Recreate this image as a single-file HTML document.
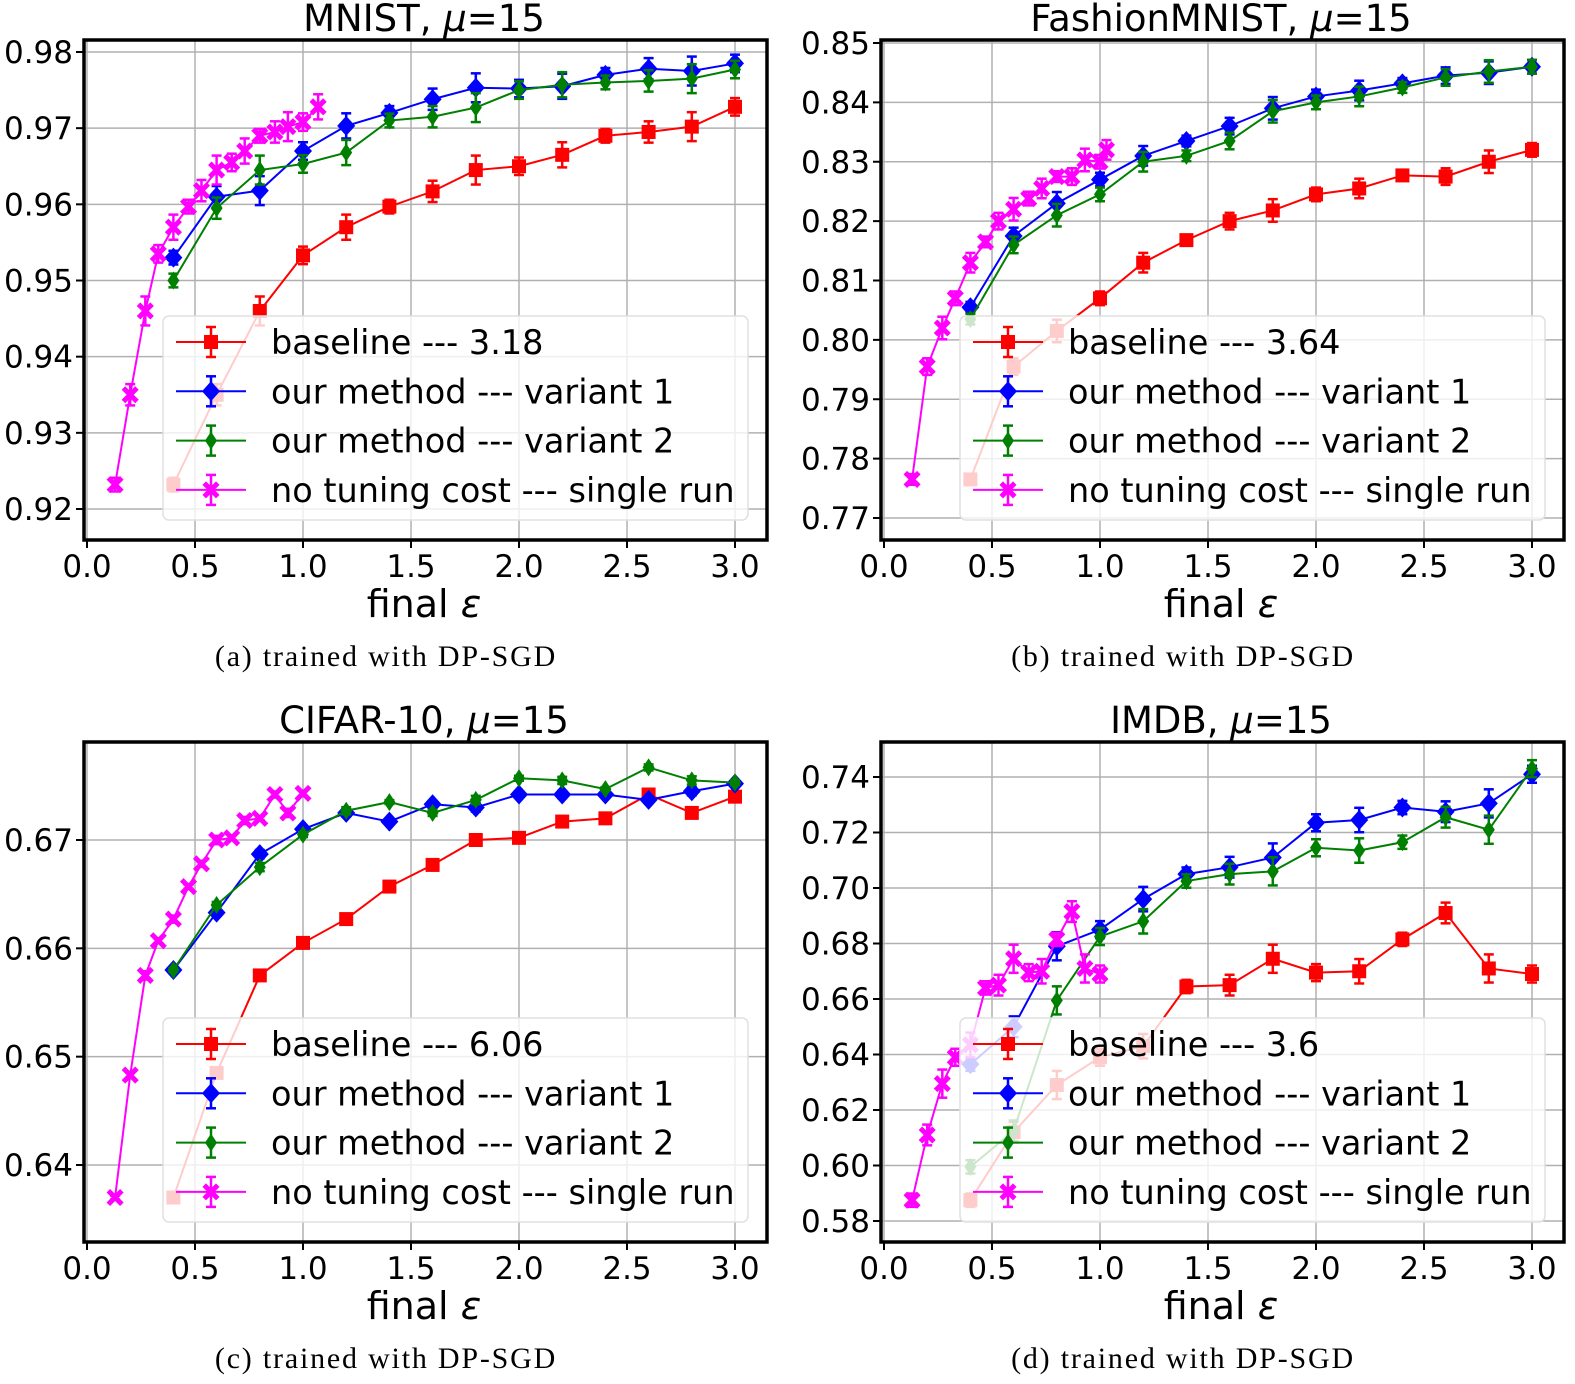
<!DOCTYPE html>
<html><head><meta charset="utf-8"><style>
body{margin:0;background:#fff;overflow:hidden;}
svg{display:block;}
svg text{font-family:"DejaVu Sans","Liberation Sans",sans-serif;}
</style></head><body>
<svg id="s" width="1575" height="1384" xmlns="http://www.w3.org/2000/svg"></svg>
<script>
const S=document.getElementById('s');let h='';
const panels=[
 {ox:0,oy:0,title:'MNIST',y0:0.92,py0:509,y1:0.98,py1:52,yt:[0.92,0.93,0.94,0.95,0.96,0.97,0.98],dec:2,leg:'baseline --- 3.18',cap:'(a) trained with DP-SGD',eb:0.0015,
 r:[[.4,.9232],[.6,.935],[.8,.946],[1,.9533],[1.2,.957],[1.4,.9597],[1.6,.9617],[1.8,.9645],[2,.965],[2.2,.9665],[2.4,.969],[2.6,.9695],[2.8,.9702],[3,.9728]],
 b:[[.4,.953],[.6,.961],[.8,.9618],[1,.967],[1.2,.9703],[1.4,.972],[1.6,.9738],[1.8,.9753],[2,.9752],[2.2,.9755],[2.4,.977],[2.6,.9778],[2.8,.9775],[3,.9785]],
 g:[[.4,.95],[.6,.9595],[.8,.9645],[1,.9653],[1.2,.9668],[1.4,.971],[1.6,.9715],[1.8,.9727],[2,.975],[2.2,.9757],[2.4,.976],[2.6,.9762],[2.8,.9765],[3,.9777]],
 m:[[.13,.9232],[.2,.935],[.27,.946],[.33,.9535],[.4,.957],[.47,.9597],[.53,.9618],[.6,.9645],[.67,.9655],[.73,.967],[.8,.969],[.87,.9695],[.93,.9702],[1,.9708],[1.07,.9728]]},
 {ox:797,oy:0,title:'FashionMNIST',y0:0.77,py0:518,y1:0.85,py1:43,yt:[.77,.78,.79,.80,.81,.82,.83,.84,.85],dec:2,leg:'baseline --- 3.64',cap:'(b) trained with DP-SGD',eb:0.0015,
 r:[[.4,.7765],[.6,.7955],[.8,.8015],[1,.807],[1.2,.813],[1.4,.8168],[1.6,.82],[1.8,.8218],[2,.8245],[2.2,.8255],[2.4,.8277],[2.6,.8275],[2.8,.83],[3,.832]],
 b:[[.4,.8055],[.6,.8175],[.8,.823],[1,.827],[1.2,.831],[1.4,.8335],[1.6,.836],[1.8,.839],[2,.841],[2.2,.842],[2.4,.8432],[2.6,.8445],[2.8,.845],[3,.846]],
 g:[[.4,.8035],[.6,.816],[.8,.821],[1,.8245],[1.2,.83],[1.4,.831],[1.6,.8335],[1.8,.8385],[2,.84],[2.2,.841],[2.4,.8425],[2.6,.8442],[2.8,.8452],[3,.846]],
 m:[[.13,.7765],[.2,.7955],[.27,.802],[.33,.807],[.4,.813],[.47,.8165],[.53,.82],[.6,.822],[.67,.8238],[.73,.8255],[.8,.8275],[.87,.8275],[.93,.8303],[1,.83],[1.03,.832]]},
 {ox:0,oy:702,title:'CIFAR-10',y0:0.64,py0:1165,y1:0.67,py1:840,yt:[.64,.65,.66,.67],dec:2,leg:'baseline --- 6.06',cap:'(c) trained with DP-SGD',eb:0.0003,
 r:[[.4,.637],[.6,.6485],[.8,.6575],[1,.6605],[1.2,.6627],[1.4,.6657],[1.6,.6677],[1.8,.67],[2,.6702],[2.2,.6717],[2.4,.672],[2.6,.6742],[2.8,.6725],[3,.674]],
 b:[[.4,.658],[.6,.6633],[.8,.6687],[1,.671],[1.2,.6725],[1.4,.6717],[1.6,.6733],[1.8,.673],[2,.6742],[2.2,.6742],[2.4,.6742],[2.6,.6737],[2.8,.6745],[3,.6752]],
 g:[[.4,.658],[.6,.664],[.8,.6675],[1,.6705],[1.2,.6727],[1.4,.6735],[1.6,.6725],[1.8,.6737],[2,.6757],[2.2,.6755],[2.4,.6747],[2.6,.6767],[2.8,.6755],[3,.6753]],
 m:[[.13,.637],[.2,.6483],[.27,.6575],[.33,.6607],[.4,.6627],[.47,.6657],[.53,.6678],[.6,.67],[.67,.6702],[.73,.6718],[.8,.672],[.87,.6742],[.93,.6725],[1,.6743]]},
 {ox:797,oy:702,title:'IMDB',y0:0.58,py0:1221,y1:0.74,py1:777,yt:[.58,.60,.62,.64,.66,.68,.70,.72,.74],dec:2,leg:'baseline --- 3.6',cap:'(d) trained with DP-SGD',eb:0.004,
 r:[[.4,.5875],[.6,.612],[.8,.629],[1,.639],[1.2,.643],[1.4,.6645],[1.6,.665],[1.8,.6745],[2,.6695],[2.2,.67],[2.4,.6815],[2.6,.691],[2.8,.671],[3,.669]],
 b:[[.4,.6365],[.6,.65],[.8,.679],[1,.685],[1.2,.696],[1.4,.705],[1.6,.7075],[1.8,.711],[2,.7235],[2.2,.7245],[2.4,.729],[2.6,.7275],[2.8,.7305],[3,.741]],
 g:[[.4,.5995],[.6,.6125],[.8,.6595],[1,.6825],[1.2,.688],[1.4,.7025],[1.6,.705],[1.8,.706],[2,.7145],[2.2,.7135],[2.4,.7165],[2.6,.7255],[2.8,.721],[3,.743]],
 m:[[.13,.5875],[.2,.611],[.27,.6295],[.33,.639],[.4,.6435],[.47,.664],[.53,.665],[.6,.6745],[.67,.6695],[.73,.67],[.8,.6815],[.87,.6915],[.93,.671],[1,.669]]}
];
function marker(t,x,y,c){
 if(t=='r')return `<rect x="${x-7}" y="${y-7}" width="14" height="14" fill="${c}"/>`;
 if(t=='b')return `<polygon points="${x},${y-10} ${x+9},${y} ${x},${y+10} ${x-9},${y}" fill="${c}"/>`;
 if(t=='g')return `<polygon points="${x},${y-9} ${x+6},${y} ${x},${y+9} ${x-6},${y}" fill="${c}"/>`;
 return `<g stroke="${c}" stroke-width="5" stroke-linecap="square"><line x1="${x-5}" y1="${y-5}" x2="${x+5}" y2="${y+5}"/><line x1="${x-5}" y1="${y+5}" x2="${x+5}" y2="${y-5}"/></g>`;
}
const cols={r:'#ff0000',b:'#0000ff',g:'#008000',m:'#ff00ff'};
panels.forEach(p=>{
 const L=84+p.ox,R=767+p.ox,T=40+p.oy,B=540+p.oy;
 const X=v=>87+p.ox+216*v, Y=v=>p.py0+(v-p.y0)*(p.py1-p.py0)/(p.y1-p.y0);
 h+=`<defs><clipPath id="c${p.ox}_${p.oy}"><rect x="${L}" y="${T}" width="${R-L}" height="${B-T}"/></clipPath></defs>`;
 h+=`<g stroke="#b0b0b0" stroke-width="1.5">`;
 for(let v=0;v<=3;v+=0.5){h+=`<line x1="${X(v)}" y1="${T}" x2="${X(v)}" y2="${B}"/>`;}
 p.yt.forEach(v=>h+=`<line x1="${L}" y1="${Y(v)}" x2="${R}" y2="${Y(v)}"/>`);
 h+=`</g>`;
 for(let v=0;v<=3;v+=0.5){h+=`<line x1="${X(v)}" y1="${B}" x2="${X(v)}" y2="${B+8}" stroke="#000" stroke-width="2"/><text x="${X(v)}" y="${B+37}" font-size="31" text-anchor="middle">${v.toFixed(1)}</text>`;}
 p.yt.forEach(v=>h+=`<line x1="${L-8}" y1="${Y(v)}" x2="${L}" y2="${Y(v)}" stroke="#000" stroke-width="2"/><text x="${L-11}" y="${Y(v)+11}" font-size="31" text-anchor="end">${v.toFixed(p.dec)}</text>`);
 h+=`<g clip-path="url(#c${p.ox}_${p.oy})">`;
 ['r','b','g','m'].forEach(k=>{
  const c=cols[k],pts=p[k];
  h+=`<polyline fill="none" stroke="${c}" stroke-width="2" points="${pts.map(q=>X(q[0])+','+Y(q[1])).join(' ')}"/>`;
  pts.forEach((q,i)=>{const x=X(q[0]),y=Y(q[1]);const e=Math.abs(p.eb*(p.py1-p.py0)/(p.y1-p.y0))*(0.6+((i*7)%5)/6);
   h+=`<g stroke="${c}" stroke-width="2.5"><line x1="${x}" y1="${y-e}" x2="${x}" y2="${y+e}"/><line x1="${x-5}" y1="${y-e}" x2="${x+5}" y2="${y-e}"/><line x1="${x-5}" y1="${y+e}" x2="${x+5}" y2="${y+e}"/></g>`;
   h+=marker(k,x,y,c);});
 });
 h+=`</g>`;
 const lx=163+p.ox,ly=(p.oy?1018:316);
 h+=`<rect x="${lx}" y="${ly}" width="585" height="204" rx="6" fill="#fff" fill-opacity="0.8" stroke="#e0e0e0" stroke-width="1.5"/>`;
 const labs=[p.leg,'our method --- variant 1','our method --- variant 2','no tuning cost --- single run'];
 ['r','b','g','m'].forEach((k,i)=>{const cy=ly+26+i*49.3,c=cols[k];
  h+=`<line x1="${lx+13}" y1="${cy}" x2="${lx+83}" y2="${cy}" stroke="${c}" stroke-width="2"/><g stroke="${c}" stroke-width="2.5"><line x1="${lx+48}" y1="${cy-15}" x2="${lx+48}" y2="${cy+15}"/><line x1="${lx+43}" y1="${cy-15}" x2="${lx+53}" y2="${cy-15}"/><line x1="${lx+43}" y1="${cy+15}" x2="${lx+53}" y2="${cy+15}"/></g>${marker(k,lx+48,cy,c)}<text x="${lx+108}" y="${cy+12}" font-size="33.5">${labs[i]}</text>`;});
 h+=`<rect x="${L}" y="${T}" width="${R-L}" height="${B-T}" fill="none" stroke="#000" stroke-width="3.5"/>`;
 const cx=424+p.ox;
 h+=`<text x="${cx}" y="${T-9}" font-size="37" text-anchor="middle">${p.title}, <tspan font-style="italic">μ</tspan>=15</text>`;
 h+=`<text x="${cx}" y="${B+77}" font-size="38" text-anchor="middle">final <tspan font-style="italic">ε</tspan></text>`;
 h+=`<text x="${386+p.ox}" y="${B+126}" font-size="30" letter-spacing="1.8" text-anchor="middle" style="font-family:'Liberation Serif','DejaVu Serif',serif">${p.cap}</text>`;
});
S.innerHTML=h;
</script>
</body></html>
